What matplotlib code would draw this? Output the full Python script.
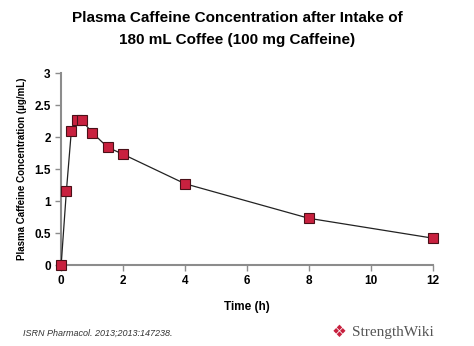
import matplotlib
matplotlib.use("Agg")
import matplotlib.pyplot as plt

# measured time points (h) and plasma caffeine (ug/mL)
time_h = [0, 0.17, 0.33, 0.5, 0.67, 1, 1.5, 2, 4, 8, 12]
caffeine = [0.0, 1.16, 2.10, 2.27, 2.26, 2.07, 1.84, 1.73, 1.27, 0.73, 0.42]

x_ticks = [0, 2, 4, 6, 8, 10, 12]
y_ticks = [0, 0.5, 1, 1.5, 2, 2.5, 3]
y_labels = ["0", "0.5", "1", "1.5", "2", "2.5", "3"]

title = "Plasma Caffeine Concentration after Intake of\n180 mL Coffee (100 mg Caffeine)"
source = "ISRN Pharmacol. 2013;2013:147238."

plt.rcParams['font.family'] = ["Liberation Sans", "DejaVu Sans"]

fig = plt.figure(figsize=(4.74, 3.46), dpi=100)
ax = fig.add_axes([0.129, 0.234, 0.784, 0.555])

ax.plot(time_h, caffeine, color="#222222", lw=0.9, marker="s", markersize=7.5,
        markerfacecolor="#c8213f", markeredgecolor="#4a1018", markeredgewidth=0.8,
        clip_on=False, zorder=3)

ax.set_xlim(0, 12)
ax.set_ylim(0, 3)
ax.set_xticks(x_ticks)
ax.set_yticks(y_ticks)
ax.set_yticklabels(y_labels)
for s in ["top", "right"]:
    ax.spines[s].set_visible(False)
for s in ["left", "bottom"]:
    ax.spines[s].set_color("#8c8c8c")
    ax.spines[s].set_linewidth(1.5)
ax.tick_params(colors="#8c8c8c", length=4, width=1, labelcolor="black",
               labelsize=8.5)
for lab in ax.get_xticklabels() + ax.get_yticklabels():
    lab.set_fontweight("bold")

ax.set_xlabel("Time (h)", fontsize=8.5, fontweight="bold", labelpad=10)
ax.set_ylabel("Plasma Caffeine Concentration (\u00b5g/mL)", fontsize=7,
              fontweight="bold", labelpad=5)

fig.text(0.5, 0.968, title, ha="center", va="top", fontsize=11,
         fontweight="bold", linespacing=1.75)
fig.text(0.048, 0.038, source, fontsize=6.5, style="italic", color="#333333",
         va="center")
fig.text(0.700, 0.04, "\u2756", fontsize=12, color="#c8213f", va="center",
         family=["DejaVu Sans"])
fig.text(0.742, 0.04, "StrengthWiki", fontsize=11, color="#555555",
         va="center", family=["Liberation Serif"])

fig.savefig("out.png", dpi=100)
